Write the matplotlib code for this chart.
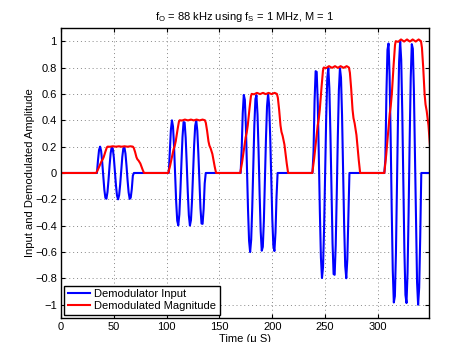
import numpy as np
import matplotlib
matplotlib.use('Agg')
import matplotlib.pyplot as plt

# ---------------- data ----------------
carrier_khz = 88.0            # f_O
sample_rate_khz = 1000.0      # f_S = 1 MHz
cycles_per_gate = 3           # burst on for 3 carrier cycles, off for 3
burst_amplitudes = [0.2, 0.4, 0.6, 0.8, 1.0]
n_samples = 349

# demodulated-magnitude shape of one burst
# (time relative to burst start in us, level relative to burst amplitude)
env_rel_time = [-0.8, 1.0, 3.0, 4.3, 5.3, 6.3, 8.0, 9.3, 10.0, 12.3, 15.0, 17.9,
                20.7, 23.4, 26.0, 28.9, 31.7, 33.9, 34.8, 36.0, 37.3, 38.2,
                39.3, 41.0, 43.2, 44.5]
env_rel_level = [0.0, 0.14, 0.33, 0.45, 0.51, 0.60, 0.82, 0.97, 1.0, 0.995, 1.013,
                 0.997, 1.013, 0.997, 1.013, 0.997, 1.013, 1.0, 0.95, 0.80, 0.60,
                 0.52, 0.47, 0.36, 0.12, 0.0]

x_ticks = [0, 50, 100, 150, 200, 250, 300]
y_ticks = [1, 0.8, 0.6, 0.4, 0.2, 0, -0.2, -0.4, -0.6, -0.8, -1]
y_tick_labels = ['1', '0.8', '0.6', '0.4', '0.2', '0', '\u22120.2', '\u22120.4',
                 '\u22120.6', '\u22120.8', '\u22121']

title_text = r'f$_\mathregular{O}$ = 88 kHz using f$_\mathregular{S}$ = 1 MHz, M = 1'
x_label = 'Time (\u03bc S)'
y_label = 'Input and Demodulated Amplitude'
legend_labels = ['Demodulator Input', 'Demodulated Magnitude']

# ---------------- build series ----------------
n = np.arange(n_samples)
cyc = n * carrier_khz / sample_rate_khz
gate = np.floor(cyc / cycles_per_gate).astype(int)
amp = np.zeros(n_samples)
for k, a in enumerate(burst_amplitudes):
    amp[gate == 2 * k + 1] = a
sig = amp * np.sin(2 * np.pi * cyc)

gate_len = cycles_per_gate * sample_rate_khz / carrier_khz
et, ev = [0.0], [0.0]
for k, a in enumerate(burst_amplitudes):
    s = (2 * k + 1) * gate_len
    et += [s + t for t in env_rel_time]
    ev += [a * v for v in env_rel_level]

# ---------------- plot ----------------
plt.rcParams['font.family'] = ['Liberation Sans', 'DejaVu Sans']
plt.rcParams['mathtext.fontset'] = 'custom'
plt.rcParams['mathtext.rm'] = 'Liberation Sans'

fig = plt.figure(figsize=(4.74, 3.42), dpi=100)
ax = fig.add_axes([0.1287, 0.0702, 0.7757, 0.848])

ax.plot(n, sig, color='#0000ff', lw=1.5, label=legend_labels[0])
ax.plot(et, ev, color='#ff0000', lw=1.5, label=legend_labels[1])

ax.set_xlim(0, n_samples - 1)
ax.set_ylim(-1.1, 1.1)
ax.set_xticks(x_ticks)
ax.set_yticks(y_ticks)
ax.set_yticklabels(y_tick_labels)
ax.tick_params(direction='in', top=True, right=True, labelsize=8, length=3,
               width=0.8, pad=3)
ax.grid(True, linestyle=(0, (1, 3)), color='#888888', lw=0.7)
for sp in ax.spines.values():
    sp.set_linewidth(1.0)

ax.set_title(title_text, fontsize=8, pad=6)
ax.set_xlabel(x_label, fontsize=8, labelpad=1)
ax.set_ylabel(y_label, fontsize=8, labelpad=0)

leg = ax.legend(loc='lower left', fontsize=8, frameon=True, fancybox=False,
                edgecolor='black', framealpha=1, borderaxespad=0.3,
                handlelength=2.0, handletextpad=0.4, borderpad=0.3,
                labelspacing=0.2)
leg.get_frame().set_linewidth(1.0)

fig.savefig('out.png', dpi=100)
